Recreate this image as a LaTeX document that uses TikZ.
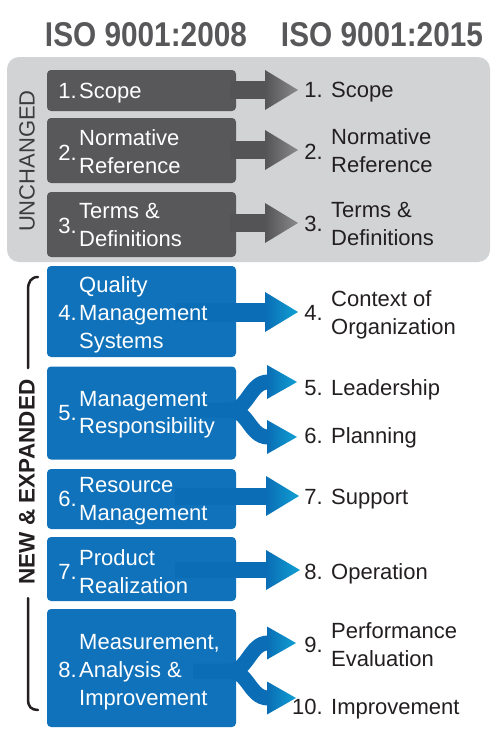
\documentclass[tikz,border=0pt]{standalone}
\usepackage{fontspec}
\setmainfont{Liberation Sans}
\usetikzlibrary{calc}
\definecolor{panelgray}{HTML}{D2D3D5}
\definecolor{boxgray}{HTML}{58585A}
\definecolor{boxblue}{HTML}{1072BA}
\definecolor{arrblue}{HTML}{0A6DB5}
\definecolor{arrcyan}{HTML}{10A0D3}
\definecolor{txtdark}{HTML}{231F20}
\definecolor{titlegray}{HTML}{58585A}
\definecolor{arrgrayL}{HTML}{545456}
\definecolor{arrgrayR}{HTML}{8A8A8C}
\definecolor{sidegray}{HTML}{3C3C3E}
\newcommand{\flatarrow}[7]{% start, tip, shaft half, head half, head length, base col, tip col
  \path[fill=#6] ($(#1)+(0,-#3)$) -- ($(#2)+(-#5+1,-#3)$) -- ($(#2)+(-#5+1,#3)$) -- ($(#1)+(0,#3)$) -- cycle;
  \path[left color=#6, right color=#7]
    ($(#2)+(-#5,-#4)$) -- (#2) -- ($(#2)+(-#5,#4)$) -- cycle;}
\newcommand{\splitarrow}[6]{%
  \draw[line width=15pt, arrblue] (#1) -- (#2) .. controls +(18,0) and +(-18,0) .. (#3);
  \draw[line width=15pt, arrblue] (#2) .. controls +(18,0) and +(-18,0) .. (#4);
  \path[left color=arrblue, right color=arrcyan]
    ($(#3)+(-1,-#5)$) -- ($(#3)+(#6,0)$) -- ($(#3)+(-1,#5)$) -- cycle;
  \path[left color=arrblue, right color=arrcyan]
    ($(#4)+(-1,-#5)$) -- ($(#4)+(#6,0)$) -- ($(#4)+(-1,#5)$) -- cycle;}
\begin{document}
\begin{tikzpicture}[x=1pt,y=-1pt,
  panel/.style={fill=panelgray, rounded corners=12pt, minimum width=483pt, minimum height=205pt, inner sep=0pt},
  darkbox/.style={fill=boxgray, rounded corners=4pt, minimum width=189pt, inner sep=0pt},
  bluebox/.style={fill=boxblue, rounded corners=4pt, minimum width=189pt, inner sep=0pt},
  lt/.style={anchor=base west, inner sep=0pt, text=white, font=\fontsize{22}{26}\selectfont},
  ln/.style={anchor=base east, inner sep=0pt, text=white, font=\fontsize{22}{26}\selectfont},
  rt/.style={anchor=base west, inner sep=0pt, text=txtdark, font=\fontsize{22}{26}\selectfont},
  rn/.style={anchor=base east, inner sep=0pt, text=txtdark, font=\fontsize{22}{26}\selectfont},
  titletext/.style={inner sep=0pt, text=titlegray},
  bracket/.style={line width=2.5pt, txtdark, line cap=round}
]
\useasboundingbox (0,0) rectangle (500,744);

% titles
\node[titletext] (title1) at (146,35) {\resizebox{202pt}{24pt}{\bfseries ISO 9001:2008}};
\node[titletext] (title2) at (382,35) {\resizebox{202pt}{24pt}{\bfseries ISO 9001:2015}};

% unchanged panel
\node[panel] (pan) at (248.5,159.5) {};
\node[rotate=90, inner sep=0pt, text=sidegray, font=\fontsize{22}{26}\selectfont] (unch) at (27,161) {UNCHANGED};

% boxes
\node[darkbox, minimum height=41pt] (b1) at (141.5,90.5) {};
\node[darkbox, minimum height=65pt] (b2) at (141.5,150.5) {};
\node[darkbox, minimum height=65pt] (b3) at (141.5,224.5) {};
\node[bluebox, minimum height=91pt] (b4) at (141.5,311.5) {};
\node[bluebox, minimum height=93pt] (b5) at (141.5,413) {};
\node[bluebox, minimum height=60pt] (b6) at (141.5,499) {};
\node[bluebox, minimum height=64pt] (b7) at (141.5,569) {};
\node[bluebox, minimum height=118pt] (b8) at (141.5,668) {};

% arrow anchor coordinates
\coordinate (g1s) at (230,90);
\coordinate (g1t) at (298,90);
\coordinate (g2s) at (230,150);
\coordinate (g2t) at (298,150);
\coordinate (g3s) at (230,223);
\coordinate (g3t) at (298,223);
\coordinate (a4s) at (175,312);
\coordinate (a4t) at (298,312);
\coordinate (a6s) at (175,496);
\coordinate (a6t) at (299,496);
\coordinate (a7s) at (175,570);
\coordinate (a7t) at (300,570);
\coordinate (a5s) at (190,410);
\coordinate (a5j) at (230,410);
\coordinate (a5u) at (268,382);
\coordinate (a5d) at (268,437);
\coordinate (a8s) at (193,671);
\coordinate (a8j) at (230,671);
\coordinate (a8u) at (268,643);
\coordinate (a8d) at (268,698);

% gray arrows
\flatarrow{g1s}{g1t}{9}{20}{33}{arrgrayL}{arrgrayR}
\flatarrow{g2s}{g2t}{9}{20}{33}{arrgrayL}{arrgrayR}
\flatarrow{g3s}{g3t}{9}{20}{33}{arrgrayL}{arrgrayR}

% blue arrows
\flatarrow{a4s}{a4t}{9.5}{20}{33}{arrblue}{arrcyan}
\flatarrow{a6s}{a6t}{8.5}{20}{33}{arrblue}{arrcyan}
\flatarrow{a7s}{a7t}{8}{20}{34}{arrblue}{arrcyan}
\splitarrow{a5s}{a5j}{a5u}{a5d}{17}{29}
\splitarrow{a8s}{a8j}{a8u}{a8d}{16.5}{28}

% left texts
\node[ln] (n1) at (77,98) {1.};
\node[lt] (t1) at (79,98) {Scope};
\node[ln] (n2) at (77,160) {2.};
\node[lt] (t2a) at (79,145) {Normative};
\node[lt] (t2b) at (79,173) {Reference};
\node[ln] (n3) at (77,233) {3.};
\node[lt] (t3a) at (79,218) {Terms \&};
\node[lt] (t3b) at (79,246) {Definitions};
\node[ln] (n4) at (77,320) {4.};
\node[lt] (t4a) at (79,292) {Quality};
\node[lt] (t4b) at (79,320) {Management};
\node[lt] (t4c) at (79,348) {Systems};
\node[ln] (n5) at (77,420) {5.};
\node[lt] (t5a) at (79,406) {Management};
\node[lt] (t5b) at (79,433) {Responsibility};
\node[ln] (n6) at (77,506) {6.};
\node[lt] (t6a) at (79,492) {Resource};
\node[lt] (t6b) at (79,520) {Management};
\node[ln] (n7) at (77,579) {7.};
\node[lt] (t7a) at (79,565) {Product};
\node[lt] (t7b) at (79,593) {Realization};
\node[ln] (n8) at (77,677) {8.};
\node[lt] (t8a) at (79,649) {Measurement,};
\node[lt] (t8b) at (79,677) {Analysis \&};
\node[lt] (t8c) at (79,705) {Improvement};

% right texts
\node[rn] (m1) at (323,97) {1.};
\node[rt] (r1) at (331,97) {Scope};
\node[rn] (m2) at (323,159) {2.};
\node[rt] (r2a) at (331,144) {Normative};
\node[rt] (r2b) at (331,172) {Reference};
\node[rn] (m3) at (323,231) {3.};
\node[rt] (r3a) at (331,217) {Terms \&};
\node[rt] (r3b) at (331,245) {Definitions};
\node[rn] (m4) at (323,320) {4.};
\node[rt] (r4a) at (331,306) {Context of};
\node[rt] (r4b) at (331,334) {Organization};
\node[rn] (m5) at (323,395) {5.};
\node[rt] (r5) at (331,395) {Leadership};
\node[rn] (m6) at (323,443) {6.};
\node[rt] (r6) at (331,443) {Planning};
\node[rn] (m7) at (323,504) {7.};
\node[rt] (r7) at (331,504) {Support};
\node[rn] (m8) at (323,579) {8.};
\node[rt] (r8) at (331,579) {Operation};
\node[rn] (m9) at (323,652) {9.};
\node[rt] (r9a) at (331,638) {Performance};
\node[rt] (r9b) at (331,666) {Evaluation};
\node[rn] (m10) at (323,714) {10.};
\node[rt] (r10) at (331,714) {Improvement};

% new & expanded bracket
\node[rotate=90, inner sep=0pt, text=txtdark, font=\bfseries\fontsize{22.5}{26}\selectfont] (newexp) at (27,482) {NEW \& EXPANDED};
\coordinate (brTop) at (38,277);
\coordinate (brTopEnd) at (28,368);
\coordinate (brBot) at (38,710);
\coordinate (brBotStart) at (28,598);
\draw[bracket] (brTop) .. controls (31,277) and (28,282) .. (28,290) -- (brTopEnd);
\draw[bracket] (brBotStart) -- (28,700) .. controls (28,706) and (31,710) .. (brBot);
\end{tikzpicture}
\end{document}
